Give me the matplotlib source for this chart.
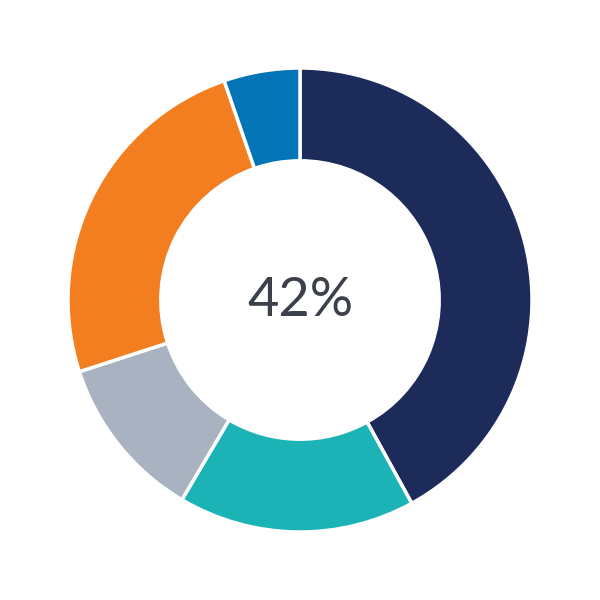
import matplotlib
matplotlib.use("Agg")
import matplotlib.pyplot as plt

labels = ["A", "B", "C", "D", "E"]
values = [42, 16.5, 11.5, 24.7, 5.3]
colors = ["#1c2b5a", "#1bb3b6", "#a8b2c0", "#f27e20", "#0374b5"]
center_text = "42%"

fig = plt.figure(figsize=(6, 6), dpi=100)
ax = fig.add_axes([0, 0, 1, 1])
ax.pie(values, colors=colors, startangle=90, counterclock=False, radius=1,
       wedgeprops={"width": 0.4, "edgecolor": "white", "linewidth": 2.5})
lim = 300 / 232
ax.set_xlim(-lim, lim)
ax.set_ylim(-lim, lim)
ax.set_aspect("equal")
ax.axis("off")
ax.text(0, 0, center_text, ha="center", va="center", fontsize=39,
        color="#3b404b", family="Lato", fontweight="normal")
fig.savefig("out.png", dpi=100, facecolor="white")
